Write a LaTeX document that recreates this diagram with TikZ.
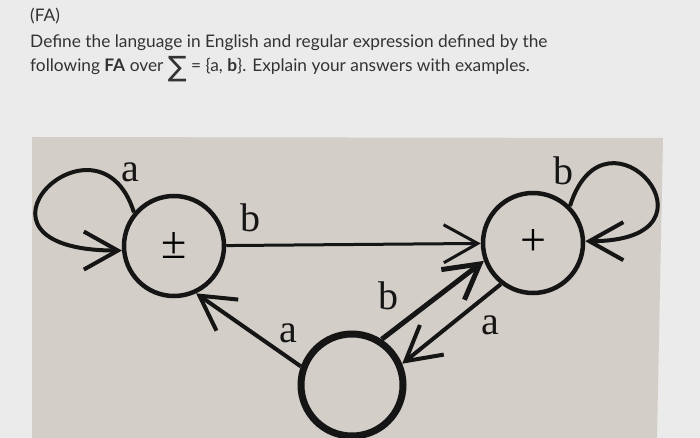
\documentclass[tikz,border=0pt]{standalone}
\usepackage{fontspec}
\setmainfont{Lato}
\newfontfamily\labfont{Liberation Serif}
\newfontfamily\sumfont{DejaVu Sans}
\usetikzlibrary{arrows.meta}
\definecolor{paper}{HTML}{EBEBEB}
\definecolor{photo}{HTML}{D3CFC8}
\definecolor{ink}{HTML}{151515}
\tikzset{
  state/.style={circle, draw=ink, line width=4.5pt, inner sep=0pt, minimum size=100pt, font=\labfont\fontsize{46}{46}\selectfont},
  trans/.style={draw=ink, line width=4pt, -{Straight Barb[length=34pt, width=38pt]}},
  lab/.style={font=\labfont\fontsize{40}{40}\selectfont, text=ink, inner sep=0pt},
  txt/.style={anchor=base west, inner sep=0pt, font=\fontsize{17.3}{20}\selectfont, text=black!80}
}
\begin{document}
\begin{tikzpicture}[x=1pt, y=-1pt]
	\useasboundingbox (0,0) rectangle (700,438);
	\fill[paper] (0,0) rectangle (700,438);
	\fill[photo] (32,137) -- (663,138) -- (657,438) -- (32,438) -- cycle;
	\node[txt](ttl) at (30,22) {(FA)};
	\node[txt](ln1) at (30,48) {Define the language in English and regular expression defined by the};
	\node[txt](ln2) at (30,72) {following \textbf{FA} over {\sumfont\fontsize{28}{20}\selectfont\raisebox{-5pt}{∑}} = \{a, \textbf{b}\}. Explain your answers with examples.};
		\node[state](q0) at (174,246) {±};
		\node[state](q1) at (533,243) {+};
		\node[state, line width=7pt, minimum size=102pt](q2) at (352,385) {};
		\draw[trans] (q0.140) .. controls +(-36,-114) and +(-180,0) .. (q0.185);
		\draw[trans] (q1.45) .. controls +(36,-114) and +(150,0) .. (q1.2);
		\draw[trans, line width=3pt] (q0) -- (q1);
		\draw[trans] (q2.160) -- (q0.-65);
		\draw[trans, line width=5pt] (q2.57) -- (q1.200);
		\draw[trans] (q1.232) -- (q2.23);
		\node[lab](la0) at (130,172) {a};
		\node[lab](lb1) at (563,171) {b};
		\node[lab](lb0) at (250,218) {b};
		\node[lab](la2) at (288,333) {a};
		\node[lab](lb2) at (388,296) {b};
		\node[lab](la1) at (490,325) {a};
\end{tikzpicture}
\end{document}
